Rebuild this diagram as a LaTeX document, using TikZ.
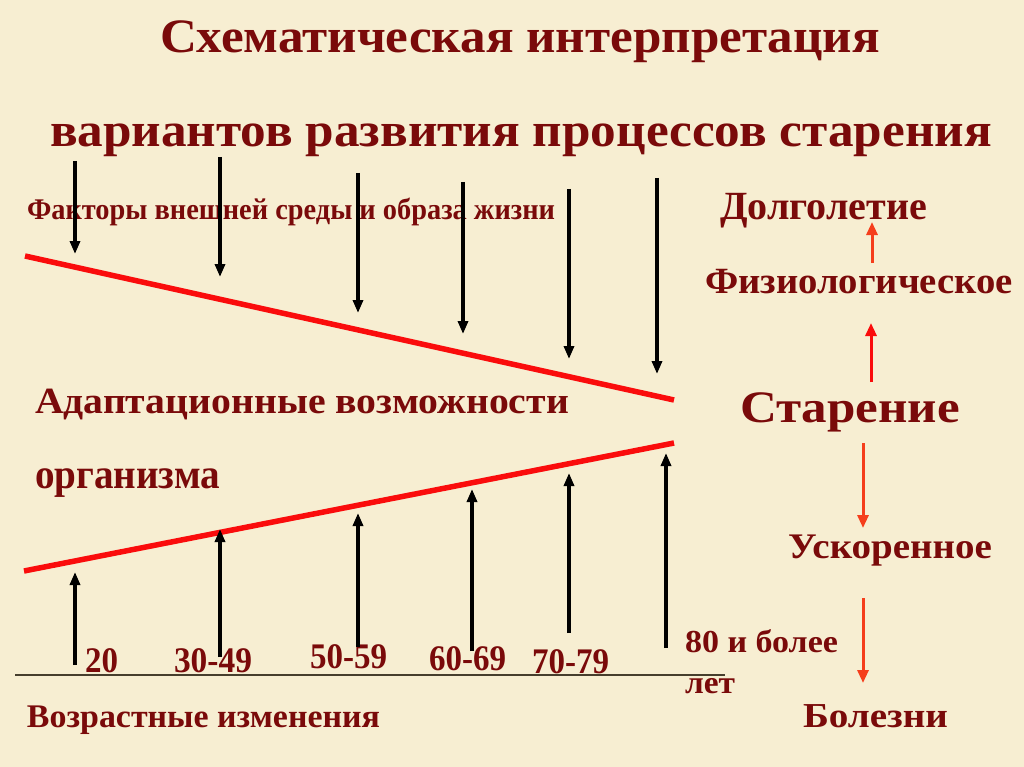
\documentclass[tikz,border=0pt]{standalone}
\usepackage{fontspec}
\setmainfont{Liberation Serif}
\usepackage{graphicx}
\usetikzlibrary{arrows.meta}
\definecolor{bg}{RGB}{247,238,210}
\definecolor{txt}{RGB}{122,10,10}
\definecolor{redl}{RGB}{250,12,12}
\definecolor{orl}{RGB}{245,62,28}
\definecolor{axis}{RGB}{70,62,45}
\newcommand{\fitw}[3]{\resizebox{#2pt}{\height}{\fontsize{#1}{#1}\selectfont #3}}
\tikzset{
  lbl/.style={anchor=base west, inner sep=0pt, outer sep=0pt, text=txt, font=\bfseries},
  blackarrow/.style={draw=black, line width=3.2pt, -{Triangle[width=10pt,length=13pt]}},
  redline/.style={draw=redl, line width=5.5pt},
  redarrow/.style={draw=redl, line width=3pt, -{Triangle[width=11pt,length=13pt]}},
  orarrow/.style={draw=orl, line width=3pt, -{Triangle[width=11pt,length=13pt]}},
  axisline/.style={draw=axis, line width=1.5pt}
}
\begin{document}
\begin{tikzpicture}[x=1pt,y=-1pt]
\useasboundingbox (0,0) rectangle (1024,767);
\fill[bg] (0,0) rectangle (1024,767);

% titles and labels
\node[lbl] (t1) at (160,53) {\fitw{48}{720}{Схематическая интерпретация}};
\node[lbl] (t2) at (50,147) {\fitw{48}{942}{вариантов развития процессов старения}};
\node[lbl] (fac) at (27,220) {\fitw{30}{528}{Факторы внешней среды и образа жизни}};
\node[lbl] (ad1) at (35,413) {\fitw{37}{534}{Адаптационные возможности}};
\node[lbl] (ad2) at (35,488) {\fitw{42}{185}{организма}};
\node[lbl] (n20) at (85,672) {\fitw{36}{33}{20}};
\node[lbl] (n30) at (174,672) {\fitw{36}{78}{30-49}};
\node[lbl] (n50) at (310,668) {\fitw{36}{77}{50-59}};
\node[lbl] (n60) at (429,670) {\fitw{36}{77}{60-69}};
\node[lbl] (n70) at (532,673) {\fitw{36}{77}{70-79}};
\node[lbl] (n80) at (685,652) {\fitw{32}{153}{80 и более}};
\node[lbl] (let) at (685,693) {\fitw{32}{50}{лет}};
\node[lbl] (voz) at (27,727) {\fitw{33}{353}{Возрастные изменения}};
\node[lbl] (dolg) at (720,220) {\fitw{40}{207}{Долголетие}};
\node[lbl] (fiz) at (705,293) {\fitw{37}{308}{Физиологическое}};
\node[lbl] (star) at (740,422) {\fitw{45}{220}{Старение}};
\node[lbl] (usk) at (788,558) {\fitw{36}{204}{Ускоренное}};
\node[lbl] (bol) at (803,727) {\fitw{35}{145}{Болезни}};

% axis line
\coordinate (ax1) at (15,675);
\coordinate (ax2) at (725,675);
\draw[axisline] (ax1) -- (ax2);

% red lines
\coordinate (a1) at (25,256);
\coordinate (a2) at (674,400);
\coordinate (b1) at (24,571);
\coordinate (b2) at (674,443);
\draw[redline] (a1) -- (a2);
\draw[redline] (b1) -- (b2);

% down arrows
\foreach \i/\x/\ya/\yb in {1/75/161/254, 2/220/157/277, 3/358/173/313, 4/463/182/334, 5/569/189/359, 6/657/178/374}{
  \coordinate (ds\i) at (\x,\ya);
  \coordinate (de\i) at (\x,\yb);
  \draw[blackarrow] (ds\i) -- (de\i);
}
% up arrows
\foreach \i/\x/\ya/\yb in {1/75/665/572, 2/220/657/529, 3/358/647/513, 4/472/651/489, 5/569/633/473, 6/666/648/453}{
  \coordinate (us\i) at (\x,\ya);
  \coordinate (ue\i) at (\x,\yb);
  \draw[blackarrow] (us\i) -- (ue\i);
}

% right column arrows
\coordinate (r1s) at (872,263); \coordinate (r1e) at (872,222);
\coordinate (r2s) at (871,382); \coordinate (r2e) at (871,323);
\coordinate (r3s) at (863,443); \coordinate (r3e) at (863,528);
\coordinate (r4s) at (863,598); \coordinate (r4e) at (863,683);
\draw[orarrow] (r1s) -- (r1e);
\draw[redarrow] (r2s) -- (r2e);
\draw[orarrow] (r3s) -- (r3e);
\draw[orarrow] (r4s) -- (r4e);
\end{tikzpicture}
\end{document}
